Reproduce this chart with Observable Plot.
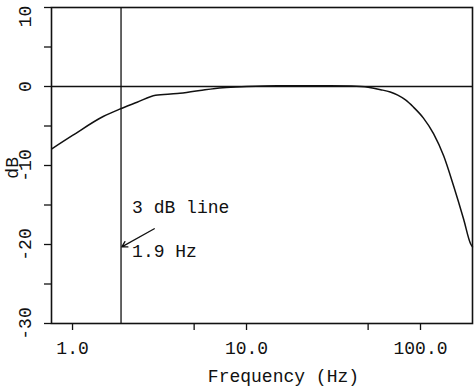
<!DOCTYPE html>
<html>
<head>
<meta charset="utf-8">
<script src="https://cdn.jsdelivr.net/npm/d3@7"></script>
<script src="https://cdn.jsdelivr.net/npm/@observablehq/plot@0.6"></script>
<style>
  html, body { margin: 0; padding: 0; background: #fff; }
  #chart svg { display: block; }
</style>
</head>
<body>
<div id="chart"></div>
<script>
// Frequency response data
const freqHz = [0.76, 1.0, 1.5, 1.85, 2.35, 3.0, 4.0, 5.4, 7.3, 10, 15, 20, 30, 40, 50, 59, 67, 74, 82, 91, 104, 119, 136, 155, 177, 194, 199];
const gainDb = [-7.9, -6.2, -3.8, -2.9, -2.0, -1.1, -0.9, -0.5, -0.15, 0, 0.1, 0.1, 0.1, 0.05, -0.1, -0.4, -0.7, -1.1, -1.7, -2.6, -4.0, -6.0, -8.8, -12.6, -16.8, -19.9, -20.3];

// Axis ticks
const xMajorTicks = [1, 10, 100];
const xTickLabels = ["1.0", "10.0", "100.0"];
const xMinorTicks = [5, 50];
const yMajorTicks = [-30, -20, -10, 0, 10];
const yTickLabels = ["-30", "-20", "-10", "0", "10"];
const yMinorTicks = [-25, -15, -5, 5];

// Reference lines and annotations
const cutoffHz = [1.9];
const zeroDb = [0];
const noteLabels = ["3 dB line", "1.9 Hz"];
const noteX = [2.2, 2.2];
const noteY = [-15.3, -20.9];
const arrowFrom = [2.95, -18.0];
const arrowTo = [1.92, -20.3];
const xAxisTitle = "Frequency (Hz)";
const xAxisTitleAt = [16.3];
const yAxisTitle = "dB";
const yAxisTitleAt = [-10.3];

const curve = freqHz.map((f, i) => ({f, db: gainDb[i]}));
const xLab = xMajorTicks.map((v, i) => ({v, t: xTickLabels[i]}));
const yLab = yMajorTicks.map((v, i) => ({v, t: yTickLabels[i]}));
const yMax = d3.max(yMajorTicks);
const notes = noteLabels.map((t, i) => ({t, x: noteX[i], y: noteY[i]}));

const font = "'Liberation Mono', 'DejaVu Sans Mono', monospace";
const ink = "#111";

const chart = Plot.plot({
  width: 474,
  height: 387,
  marginLeft: 51,
  marginRight: 2,
  marginTop: 7,
  marginBottom: 64,
  style: {fontFamily: font, background: "#fff", color: ink},
  x: {type: "log", domain: [0.757, 199], axis: null},
  y: {domain: [-30, 10], axis: null},
  marks: [
    Plot.frame({stroke: ink, strokeWidth: 1.6}),
    Plot.ruleY(zeroDb, {stroke: ink, strokeWidth: 1.5}),
    Plot.ruleX(cutoffHz, {stroke: ink, strokeWidth: 1.3}),
    Plot.line(curve, {x: "f", y: "db", stroke: ink, strokeWidth: 1.5, curve: "monotone-x"}),
    // x ticks
    Plot.axisX({ticks: xMajorTicks.concat(xMinorTicks), tickSize: 7, stroke: ink, strokeWidth: 1.3, text: null}),
    Plot.text(xLab, {x: "v", text: "t", frameAnchor: "bottom", dy: 25, fontSize: 18, lineAnchor: "middle", fill: ink}),
    Plot.text([xAxisTitle], {x: xAxisTitleAt, text: d => d, frameAnchor: "bottom", dy: 53, fontSize: 18, lineAnchor: "middle", fill: ink}),
    // y ticks
    Plot.axisY({ticks: yMajorTicks.concat(yMinorTicks), tickSize: 7, text: null, stroke: ink, strokeWidth: 1.3}),
    Plot.text(yLab.filter(d => d.v !== yMax), {y: "v", text: "t", frameAnchor: "left", dx: -26, rotate: -90, fontSize: 18, lineAnchor: "middle", textAnchor: "middle", fill: ink}),
    Plot.text(yLab.filter(d => d.v === yMax), {y: "v", text: "t", frameAnchor: "left", dx: -26, dy: 9, rotate: -90, fontSize: 18, lineAnchor: "middle", textAnchor: "middle", fill: ink}),
    Plot.text([yAxisTitle], {y: yAxisTitleAt, text: d => d, frameAnchor: "left", dx: -39, rotate: -90, fontSize: 18, lineAnchor: "middle", textAnchor: "middle", fill: ink}),
    // annotation
    Plot.text(notes, {x: "x", y: "y", text: "t", textAnchor: "start", lineAnchor: "middle", fontSize: 18, fill: ink}),
    Plot.arrow([0], {x1: () => arrowFrom[0], y1: () => arrowFrom[1], x2: () => arrowTo[0], y2: () => arrowTo[1], stroke: ink, strokeWidth: 1.3, headLength: 7})
  ]
});
document.getElementById("chart").append(chart);
</script>
</body>
</html>
